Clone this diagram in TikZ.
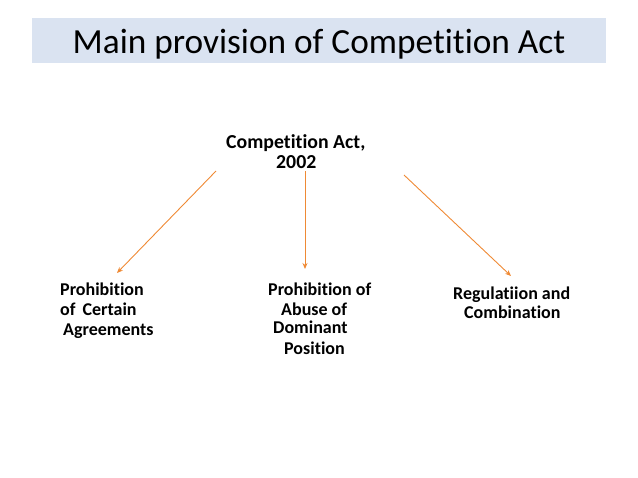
\documentclass[tikz,border=0pt]{standalone}
\usepackage{fontspec}
\usetikzlibrary{arrows.meta}
\setmainfont[Ligatures=CommonOff]{Carlito}
\definecolor{titlebg}{HTML}{DAE3F1}
\definecolor{arrowc}{HTML}{EF8A35}
\begin{document}
\begin{tikzpicture}[x=1pt,y=-1pt,
  lbl/.style={anchor=base west,inner sep=0pt,font=\fontsize{18}{20}\selectfont\bfseries},
  head/.style={lbl,font=\fontsize{19.8}{22}\selectfont\bfseries},
  conn/.style={draw=arrowc,line width=0.9pt,-{Stealth[length=6pt,width=5pt]}}]
\useasboundingbox (0,0) rectangle (638,478);
\fill[titlebg] (32,18) rectangle (606,63);
\node[anchor=base,inner sep=0pt,font=\fontsize{35.3}{40}\selectfont] (title) at (319,54) {Main provision of Competition Act};
\node[head] (ca1) at (226,149) {Competition Act,};
\node[head] (ca2) at (276,169) {2002};
\node[lbl] (l1) at (60,296) {Prohibition};
\node[lbl] (l2) at (60,316) {of\hspace{3pt} Certain};
\node[lbl] (l3) at (63,336) {Agreements};
\node[lbl] (m1) at (268,296) {Prohibition of};
\node[lbl] (m2) at (281,316) {Abuse of};
\node[lbl] (m3) at (273,334) {Dominant};
\node[lbl] (m4) at (284,355) {Position};
\node[lbl] (r1) at (453,300) {Regulatiion and};
\node[lbl] (r2) at (464,319) {Combination};
\coordinate (s1) at (216,171);
\coordinate (e1) at (117,273);
\coordinate (s2) at (305,171);
\coordinate (e2) at (305,269);
\coordinate (s3) at (404,175);
\coordinate (e3) at (511,276);
\draw[conn] (s1) -- (e1);
\draw[conn] (s2) -- (e2);
\draw[conn] (s3) -- (e3);
\end{tikzpicture}
\end{document}
